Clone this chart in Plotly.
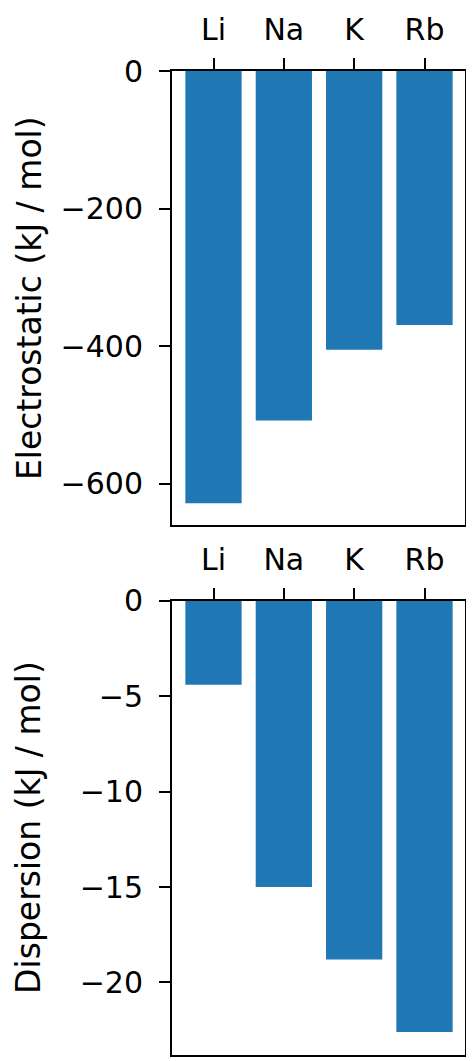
import plotly.graph_objects as go
from plotly.subplots import make_subplots

categories = ["Li", "Na", "K", "Rb"]
electrostatic = [-628, -508, -405, -369]
dispersion = [-4.4, -15.0, -18.8, -22.6]

elec_ticks = [0, -200, -400, -600]
elec_ticklabels = ["0", "\u2212200", "\u2212400", "\u2212600"]
disp_ticks = [0, -5, -10, -15, -20]
disp_ticklabels = ["0", "\u22125", "\u221210", "\u221215", "\u221220"]

elec_title = "Electrostatic (kJ / mol)"
disp_title = "Dispersion (kJ / mol)"

BAR = "#1f77b4"
FONT = "DejaVu Sans"
FS = 30
TFS = 33

fig = make_subplots(rows=2, cols=1, vertical_spacing=0.0)

fig.add_trace(go.Bar(x=list(range(len(categories))), y=electrostatic, width=0.8,
                     marker=dict(color=BAR, line=dict(width=0)), showlegend=False),
              row=1, col=1)
fig.add_trace(go.Bar(x=list(range(len(categories))), y=dispersion, width=0.8,
                     marker=dict(color=BAR, line=dict(width=0)), showlegend=False),
              row=2, col=1)

# page body has an 8px margin, so figure coords = page coords - 8
OFF = 8
W, H = 474 - OFF, 1061 - OFF
left, right, top, bottom = 172 - OFF, 466 - OFF, 67 - OFF, 1057 - OFF
ml, mr, mt, mb = left, W - right, top, H - bottom
plot_h = bottom - top
top_dom = [1 - (524 - 67) / plot_h, 1.0]
bot_dom = [0.0, 1 - (600 - 67) / plot_h]

xcommon = dict(range=[-0.59, 3.59], side="top", tickmode="array",
               tickvals=list(range(len(categories))), ticktext=categories,
               ticks="outside", ticklen=11, tickwidth=2, tickcolor="black",
               ticklabelstandoff=6,
               showline=True, linecolor="black", linewidth=2, mirror=True,
               showgrid=False, zeroline=False,
               tickfont=dict(family=FONT, size=FS, color="black"))
ycommon = dict(ticks="outside", ticklen=11, tickwidth=2, tickcolor="black",
               ticklabelstandoff=10,
               showline=True, linecolor="black", linewidth=2, mirror=True,
               showgrid=False, zeroline=False, tickmode="array",
               tickfont=dict(family=FONT, size=FS, color="black"))

fig.update_layout(
    width=W, height=H,
    margin=dict(l=ml, r=mr, t=mt, b=mb),
    paper_bgcolor="white", plot_bgcolor="white",
    bargap=0.2,
    xaxis=dict(xcommon, domain=[0, 1], anchor="y"),
    xaxis2=dict(xcommon, domain=[0, 1], anchor="y2"),
    yaxis=dict(ycommon, domain=top_dom, range=[-660, 0],
               tickvals=elec_ticks, ticktext=elec_ticklabels),
    yaxis2=dict(ycommon, domain=bot_dom, range=[-23.8, 0],
                tickvals=disp_ticks, ticktext=disp_ticklabels),
)

# right-hand frame lines (axes spines)
for xr, yr in (("x domain", "y domain"), ("x2 domain", "y2 domain")):
    fig.add_shape(type="line", xref=xr, yref=yr, x0=1, x1=1, y0=0, y1=1,
                  line=dict(color="black", width=2), layer="above")

plot_w = right - left
title_x = (29 - 172) / plot_w
for txt, dom in ((elec_title, top_dom), (disp_title, bot_dom)):
    fig.add_annotation(text=txt, xref="paper", yref="paper",
                       x=title_x, y=(dom[0] + dom[1]) / 2, textangle=-90,
                       showarrow=False, xanchor="center", yanchor="middle",
                       borderpad=0,
                       font=dict(family=FONT, size=TFS, color="black"))

fig.write_html("out.html")
